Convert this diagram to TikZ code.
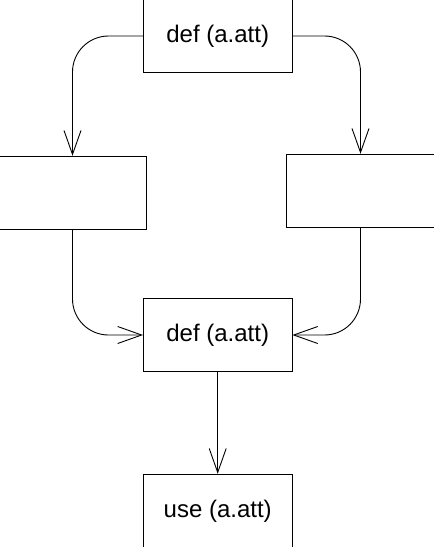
\documentclass[tikz,border=0pt]{standalone}
\usepackage{fontspec}
\setmainfont{Liberation Sans}
\usetikzlibrary{arrows.meta}

\tikzset{
    blk/.style={draw, line width=0.9pt, minimum width=148.5pt, minimum height=73.5pt,
        inner sep=0pt, font=\fontsize{24}{28}\selectfont},
    flow/.style={draw, line width=0.9pt, -{Straight Barb[length=24pt,width=17pt,line width=0.9pt]}}
}

\begin{document}
\begin{tikzpicture}[x=1pt, y=-1pt]
    \useasboundingbox (0,0) rectangle (434,547);
    \node[blk] (deftop) at (217.7,36) {def (a.att)};
    \node[blk] (left) at (72.5,193) {};
    \node[blk] (right) at (360.5,191) {};
    \node[blk] (defmid) at (217.7,335) {def (a.att)};
    \node[blk] (use) at (217.7,511) {use (a.att)};
    \draw[flow, rounded corners=36pt] (deftop.west) -| (left.north);
    \draw[flow, rounded corners=36pt] (deftop.east) -| (right.north);
    \draw[flow, rounded corners=36pt] (left.south) |- (defmid.west);
    \draw[flow, rounded corners=36pt] (right.south) |- (defmid.east);
    \draw[flow] (defmid.south) -- (use.north);
\end{tikzpicture}
\end{document}
